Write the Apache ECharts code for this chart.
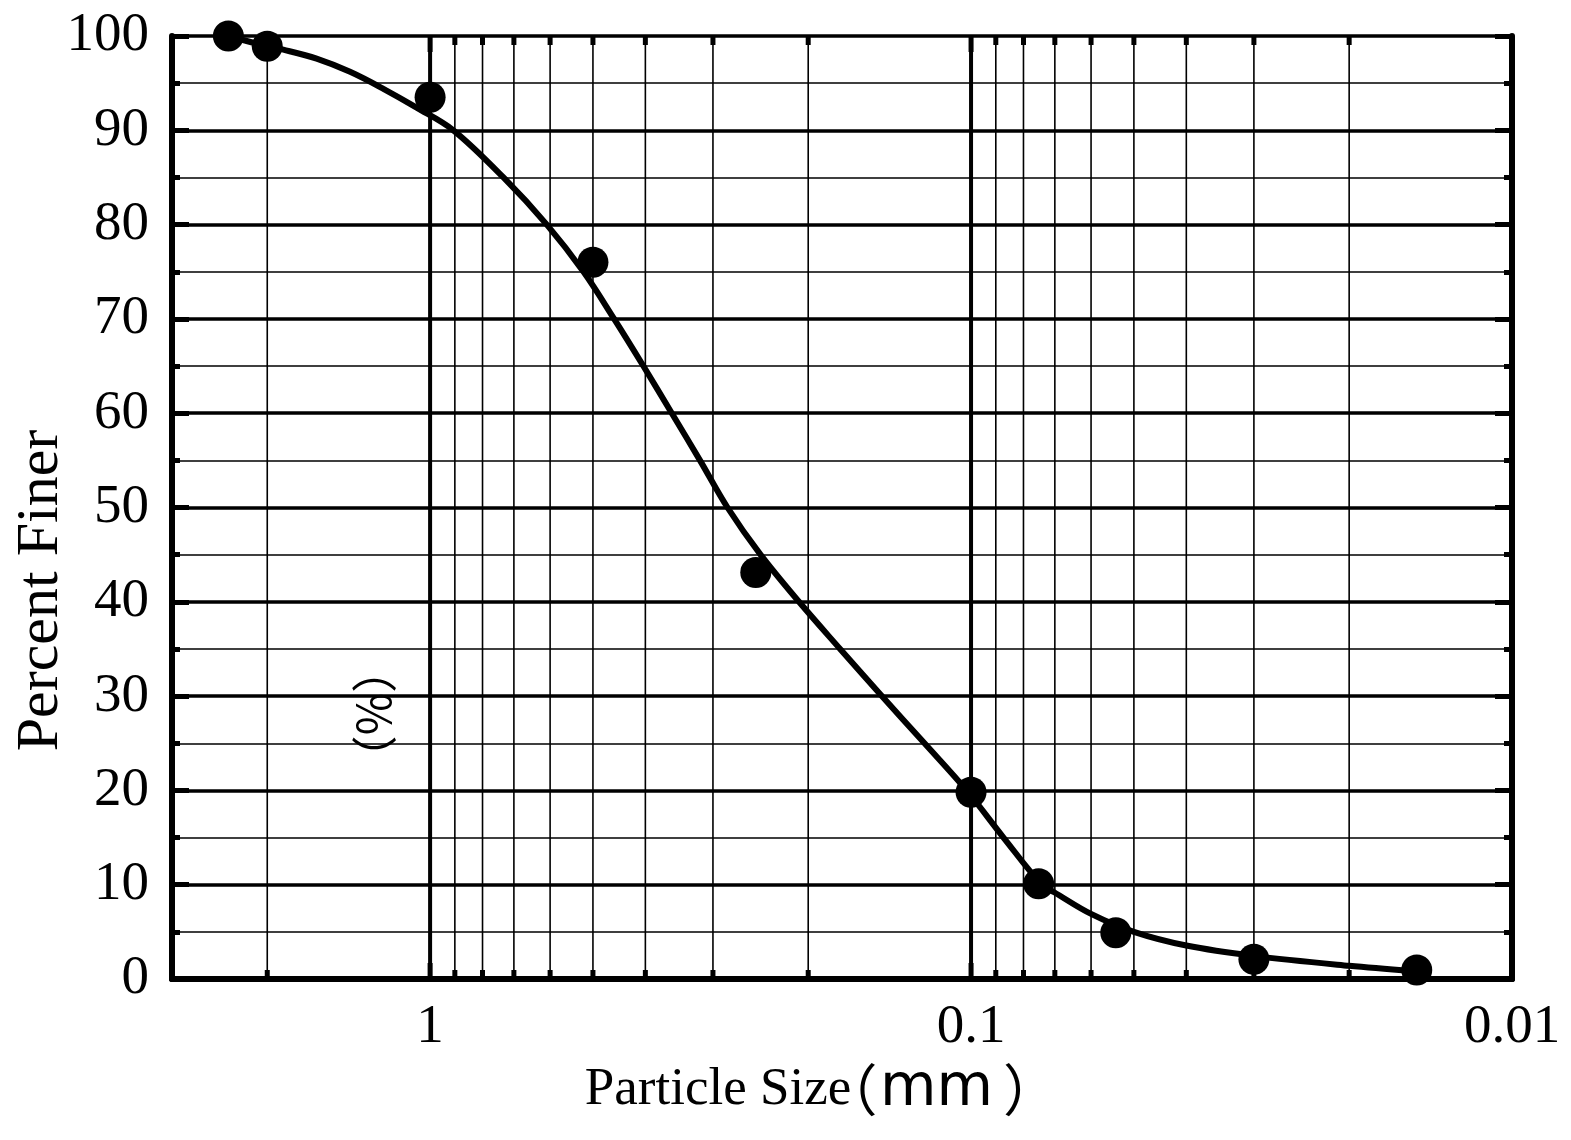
<!DOCTYPE html>
<html>
<head>
<meta charset="utf-8">
<script src="https://cdn.jsdelivr.net/npm/echarts@6/dist/echarts.min.js"></script>
<style>html,body{margin:0;padding:0;background:#fff}#c{width:1571px;height:1140px}</style>
</head>
<body>
<div id="c"></div>
<script>
// Measured sieve / hydrometer points
const pointSize = [2.36, 2.0, 1.0, 0.5, 0.25, 0.1, 0.075, 0.054, 0.03, 0.015];
const pointPct  = [100, 98.9, 93.5, 76.0, 43.1, 19.8, 10.1, 4.9, 2.1, 0.95];
// Fitted curve
const curveSize = [2.36, 2.0, 1.868, 1.621, 1.406, 1.22, 1.059, 0.9056, 0.7318, 0.6085, 0.5205, 0.4569, 0.4034, 0.3574, 0.317, 0.282, 0.245, 0.208, 0.1746, 0.1462, 0.1219, 0.1019, 0.0871, 0.074, 0.0702, 0.06, 0.05, 0.04, 0.03, 0.02, 0.0153];
const curvePct  = [100, 98.9, 98.55, 97.6, 96.2, 94.4, 92.4, 90, 85, 80, 75, 70, 65, 60, 55, 50, 45, 40, 35, 30, 25, 20, 15, 10, 9.2, 6.9, 5.0, 3.55, 2.45, 1.4, 0.85];
// Log grid positions (mm)
const minorSizeTicks = [2, 0.9, 0.8, 0.7, 0.6, 0.5, 0.4, 0.3, 0.2, 0.09, 0.08, 0.07, 0.06, 0.05, 0.04, 0.03, 0.02];
const majorSizeTicks = [1, 0.1];
// Major x tick labels (10^0, 10^-1, 10^-2)
const xTickLabels = ['1', '0.1', '0.01'];
const xTitle = 'Particle Size';
const xUnit = ['（', 'mm', '）'];
const yTitle = 'Percent Finer';
const yUnit = '（%）';

const K = '#000';
const serif = '"Liberation Serif", "Times New Roman", serif';
const cjk = '"Noto Sans CJK JP", "Noto Sans", sans-serif';
const sans = '"DejaVu Sans", "Noto Sans", sans-serif';

const chart = echarts.init(document.getElementById('c'));

function xLabel(v) {
  const e = Math.round(Math.log10(v));
  if (Math.abs(Math.log10(v) - e) > 1e-6) return '';
  const idx = -e;
  return (idx >= 0 && idx < xTickLabels.length) ? xTickLabels[idx] : '';
}

function tickGroup(p0, p1, len, lw, w) {
  return [
    { type: 'line', shape: { x1: p0[0], y1: p0[1], x2: p1[0], y2: p1[1] }, style: { stroke: K, lineWidth: lw } },
    { type: 'rect', shape: { x: p0[0] - w / 2, y: p0[1] - len, width: w, height: len }, style: { fill: K } },
    { type: 'rect', shape: { x: p1[0] - w / 2, y: p1[1], width: w, height: len }, style: { fill: K } }
  ];
}

const option = {
  backgroundColor: '#fff',
  animation: false,
  grid: { left: 172, right: 59, top: 36, bottom: 161, containLabel: false, outerBoundsMode: 'none' },
  xAxis: [
    {
      type: 'log', logBase: 10, min: 0.01, max: 3, inverse: true, position: 'bottom',
      axisLine: { show: true, lineStyle: { color: K, width: 6 } },
      axisTick: { show: false },
      axisLabel: { color: K, fontFamily: serif, fontSize: 55, margin: 21,
        showMinLabel: true, showMaxLabel: false, hideOverlap: false, formatter: xLabel },
      splitLine: { show: false },
      name: '{a|' + xTitle + '}{b|' + xUnit[0] + '}{c|' + xUnit[1] + '}{d|' + xUnit[2] + '}',
      nameLocation: 'middle', nameGap: 80, nameMoveOverlap: false,
      nameTextStyle: {
        padding: [0, 40, 0, 0],
        rich: {
          a: { fontFamily: serif, fontSize: 53, color: K, lineHeight: 62, width: 250 },
          b: { fontFamily: cjk, fontSize: 56, color: K, lineHeight: 62, width: 13 },
          c: { fontFamily: sans, fontSize: 58, color: K, lineHeight: 62, padding: [0, 0, 0, 24] },
          d: { fontFamily: cjk, fontSize: 56, color: K, lineHeight: 62, width: 40, padding: [0, 0, 0, 18] }
        }
      }
    },
    {
      type: 'log', logBase: 10, min: 0.01, max: 3, inverse: true, position: 'top',
      axisLine: { show: true, lineStyle: { color: K, width: 6 } },
      axisTick: { show: false },
      axisLabel: { show: false },
      splitLine: { show: false }
    }
  ],
  yAxis: [
    {
      type: 'value', min: 0, max: 100, interval: 10, position: 'left',
      axisLine: { show: true, lineStyle: { color: K, width: 6 } },
      axisTick: { show: true, inside: true, length: 17, lineStyle: { color: K, width: 5 } },
      minorTick: { show: true, splitNumber: 2, length: 8, lineStyle: { color: K, width: 5 } },
      splitLine: { show: true, lineStyle: { color: K, width: 3.5 } },
      minorSplitLine: { show: true, lineStyle: { color: K, width: 1.5 } },
      axisLabel: { color: K, fontFamily: serif, fontSize: 55, margin: 23 },
      name: yTitle, nameLocation: 'middle', nameRotate: 90, nameGap: 101, nameMoveOverlap: false,
      nameTextStyle: { fontFamily: serif, fontSize: 60, color: K, lineHeight: 60, padding: [0, 166, 0, 0] }
    },
    {
      type: 'value', min: 0, max: 100, interval: 10, position: 'right',
      axisLine: { show: true, lineStyle: { color: K, width: 6 } },
      axisTick: { show: true, inside: true, length: 17, lineStyle: { color: K, width: 5 } },
      minorTick: { show: true, splitNumber: 2, length: 8, lineStyle: { color: K, width: 5 } },
      splitLine: { show: false },
      axisLabel: { show: false }
    }
  ],
  graphic: [
    {
      type: 'text', x: 374, y: 714, rotation: Math.PI / 2, silent: true,
      style: { text: yUnit, font: '46px ' + cjk, fill: K, align: 'center', verticalAlign: 'middle' }
    }
  ],
  series: [
    {
      type: 'custom', silent: true, z: 1, clip: false,
      xAxisIndex: 0, yAxisIndex: 0,
      data: minorSizeTicks.map(v => [v, 0]),
      encode: { x: 0, y: 1 },
      renderItem: function (params, api) {
        const v = api.value(0);
        return { type: 'group', children: tickGroup(api.coord([v, 0]), api.coord([v, 100]), 9, 1.6, 5) };
      }
    },
    {
      type: 'custom', silent: true, z: 1, clip: false,
      xAxisIndex: 0, yAxisIndex: 0,
      data: majorSizeTicks.map(v => [v, 0]),
      encode: { x: 0, y: 1 },
      renderItem: function (params, api) {
        const v = api.value(0);
        return { type: 'group', children: tickGroup(api.coord([v, 0]), api.coord([v, 100]), 16, 4, 5) };
      }
    },
    {
      type: 'line', z: 3, smooth: 0.35, showSymbol: false, symbol: 'none', silent: true,
      xAxisIndex: 0, yAxisIndex: 0,
      lineStyle: { color: K, width: 6 },
      data: curveSize.map((s, i) => [s, curvePct[i]])
    },
    {
      type: 'scatter', z: 4, symbol: 'circle', symbolSize: 31, silent: true, clip: false,
      xAxisIndex: 0, yAxisIndex: 0,
      itemStyle: { color: K, opacity: 1 },
      data: pointSize.map((s, i) => [s, pointPct[i]])
    }
  ]
};
chart.setOption(option);
</script>
</body>
</html>
